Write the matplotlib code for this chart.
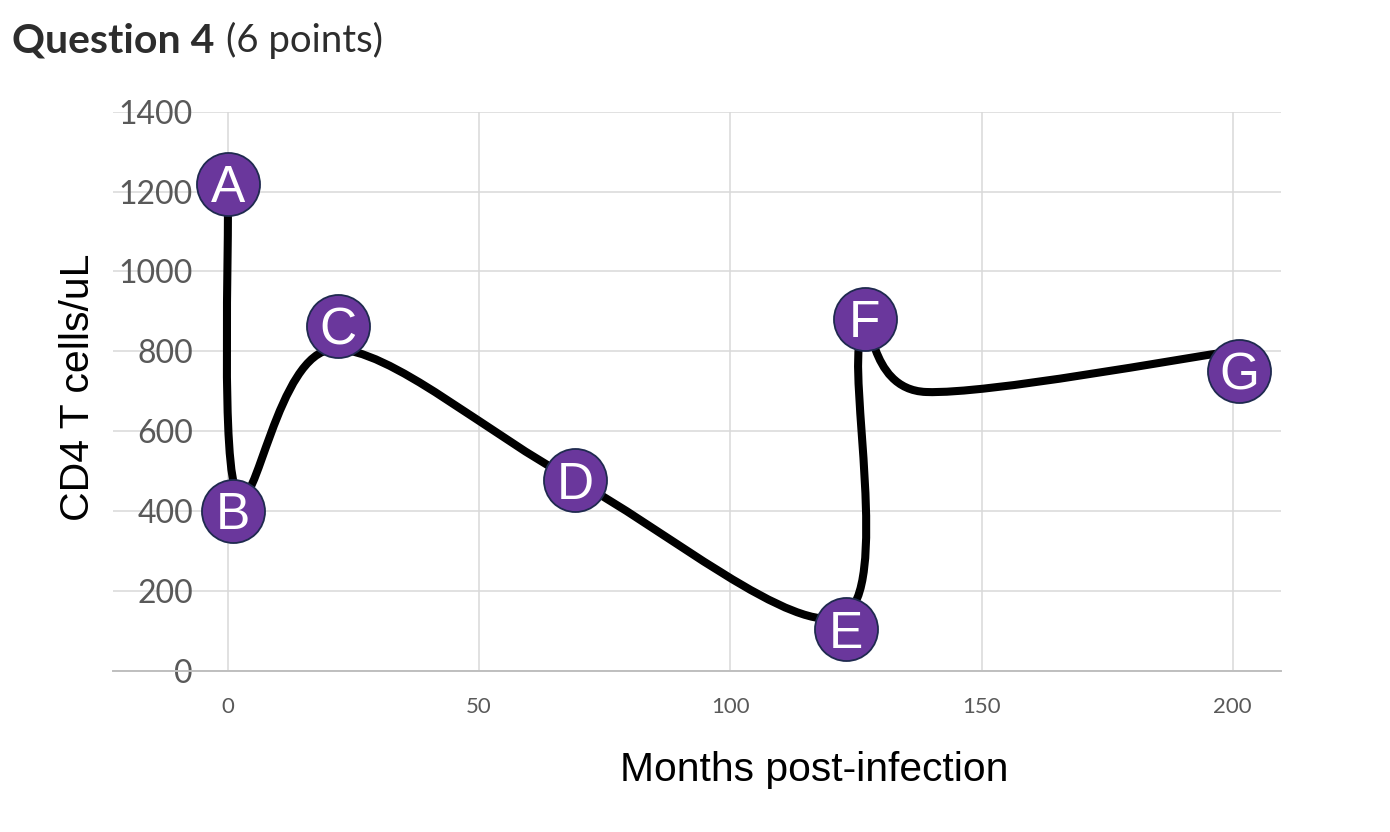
import matplotlib
matplotlib.use("Agg")
import matplotlib.pyplot as plt
import numpy as np
from matplotlib.path import Path
from matplotlib.patches import PathPatch

# curve knots (months, cells/uL)
curve_x = [0, 2, 21, 69, 122.5, 126, 139, 200]
curve_y = [1200, 440, 805, 477, 138, 835, 698, 800]

# labelled points
point_labels = ["A", "B", "C", "D", "E", "F", "G"]
point_x = [0, 1.0, 22, 69.2, 123.1, 126.8, 201.3]
point_y = [1220, 400, 864, 477, 104, 882, 751]

x_ticks = [0, 50, 100, 150, 200]
y_ticks = [0, 200, 400, 600, 800, 1000, 1200, 1400]

PURPLE = "#6A379C"
EDGE = "#1F2A4F"
GRID = "#D9D9D9"
TICK = "#595959"

W, H = 1390, 832
fig = plt.figure(figsize=(W / 100, H / 100), dpi=100)
ax = fig.add_axes([112.7 / W, 1 - 670.7 / H, (1281 - 112.7) / W, (670.7 - 111.7) / H])
ax.set_xlim(-22.9, 209.6)
ax.set_ylim(0, 1400)

ax.set_xticks(x_ticks)
ax.set_yticks(y_ticks)
ax.grid(True, color=GRID, lw=1.1)
ax.set_axisbelow(True)
for s in ["top", "right", "left"]:
    ax.spines[s].set_visible(False)
ax.spines["bottom"].set_color("#BFBFBF")
ax.spines["bottom"].set_linewidth(1.4)

ax.tick_params(axis="x", length=0, pad=19, labelsize=16, labelcolor=TICK)
ax.tick_params(axis="y", length=0, pad=-57.8, labelsize=23, labelcolor=TICK)
for lab in ax.get_xticklabels() + ax.get_yticklabels():
    lab.set_fontfamily("Lato")


def smooth_path(ax, xs, ys, t=1 / 6):
    # Catmull-Rom style bezier, built in screen space like a spreadsheet smooth line
    pts = ax.transData.transform(np.column_stack([xs, ys]))
    n = len(pts)
    verts = [pts[0]]
    codes = [Path.MOVETO]
    for i in range(n - 1):
        p0 = pts[i - 1] if i > 0 else pts[i]
        p1, p2 = pts[i], pts[i + 1]
        p3 = pts[i + 2] if i + 2 < n else pts[i + 1]
        verts += [p1 + (p2 - p0) * t, p2 - (p3 - p1) * t, p2]
        codes += [Path.CURVE4] * 3
    verts = ax.transData.inverted().transform(np.array(verts))
    return Path(verts, codes)


ax.add_patch(PathPatch(smooth_path(ax, curve_x, curve_y), fill=False,
                       color="black", lw=5.8, capstyle="round",
                       joinstyle="round", zorder=3))

ax.scatter(point_x, point_y, s=2060, color=PURPLE, edgecolors=EDGE,
           linewidths=1.3, zorder=4, clip_on=False)
for lab, x, y in zip(point_labels, point_x, point_y):
    ax.annotate(lab, (x, y), xytext=(0, -13.3), textcoords="offset points",
                ha="center", va="baseline", color="white", fontsize=37,
                family="Liberation Sans", zorder=5, annotation_clip=False)

# axis titles
fig.text(78 / W, 1 - 387 / H, "CD4 T cells/uL", rotation=90, ha="center",
         va="center", fontsize=29.5, family="Liberation Sans", color="black")
fig.text(814 / W, 1 - 781 / H, "Months post-infection", ha="center",
         va="baseline", fontsize=29.3, family="Liberation Sans", color="black")

# heading: bold part, then regular part on the same baseline
base_y = 1 - 52 / H
t1 = fig.text(12 / W, base_y, "Question 4", ha="left", va="baseline",
              fontsize=29.5, fontweight="bold", family="Lato", color="#2D2D2D")
renderer = fig.canvas.get_renderer()
x_end = t1.get_window_extent(renderer).x1
fig.text((x_end + 12) / W, base_y, "(6 points)", ha="left", va="baseline",
         fontsize=27.6, family="Lato", color="#2D2D2D")

fig.savefig("out.png", dpi=100)
